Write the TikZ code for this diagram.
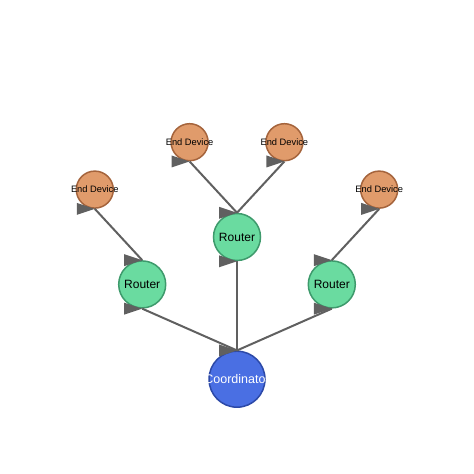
\documentclass[tikz,border=0pt]{standalone}
\usepackage{fontspec}
\setmainfont{Liberation Sans}
\definecolor{coordblue}{HTML}{4A6FE3}
\definecolor{coordedge}{HTML}{2C49A8}
\definecolor{routergreen}{HTML}{6ADBA0}
\definecolor{routeredge}{HTML}{3E9A6C}
\definecolor{deviceorange}{HTML}{E09B6B}
\definecolor{deviceedge}{HTML}{A5643C}
\definecolor{linkgray}{HTML}{606060}

\begin{document}
\begin{tikzpicture}[x=47.4pt, y=-47.4pt,
    coordnode/.style={circle, draw=coordedge, line width=1.5pt, fill=coordblue, minimum size=56pt, inner sep=0pt,
        label={[text=white, font=\fontsize{12.5}{14}\selectfont]center:Coordinator}},
    routernode/.style={circle, draw=routeredge, line width=1.5pt, fill=routergreen, minimum size=47pt, inner sep=0pt, font=\fontsize{12}{14}\selectfont},
    devicenode/.style={circle, draw=deviceedge, line width=1.5pt, fill=deviceorange, minimum size=37pt, inner sep=0pt,
        label={[font=\fontsize{9.3}{11}\selectfont]center:End Device}},
    link/.style={draw=linkgray, line width=2pt},
    endtri/.pic={\fill[linkgray] (0,0) -- (-18pt,-6pt) -- (-18pt,6pt) -- cycle;}]
    \useasboundingbox (0,0) rectangle (10,10);
    \node[coordnode] (coord) at (5,8) {};
    \node[routernode] (r1) at (3,6) {Router};
    \node[routernode] (r2) at (5,5) {Router};
    \node[routernode] (r3) at (7,6) {Router};
    \node[devicenode] (ed1) at (2,4) {};
    \node[devicenode] (ed2) at (4,3) {};
    \node[devicenode] (ed3) at (6,3) {};
    \node[devicenode] (ed4) at (8,4) {};

    \draw[link] (coord.north) -- (r1.south);
    \draw[link] (coord.north) -- (r2.south);
    \draw[link] (coord.north) -- (r3.south);
    \draw[link] (r1.north) -- (ed1.south);
    \draw[link] (r2.north) -- (ed2.south);
    \draw[link] (r2.north) -- (ed3.south);
    \draw[link] (r3.north) -- (ed4.south);

    % markers at both ends of every link
    \foreach \n in {coord.north, r1.south, r2.south, r3.south, r1.north, r2.north, r3.north, ed1.south, ed2.south, ed3.south, ed4.south}
        \pic at (\n) {endtri};
\end{tikzpicture}
\end{document}
